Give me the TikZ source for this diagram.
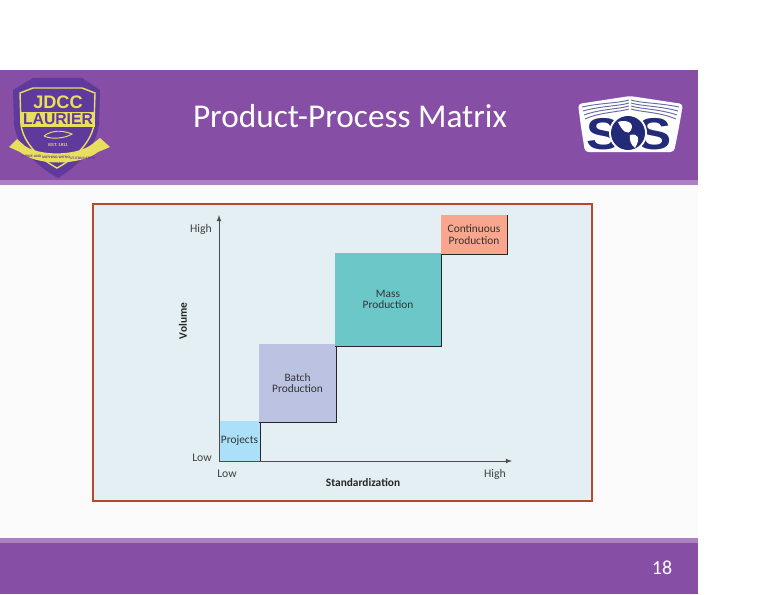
\documentclass[tikz,border=0pt]{standalone}
\usepackage{fontspec}
\setmainfont{Carlito}
\newfontfamily\logofont{Liberation Sans}
\usetikzlibrary{calc}
\definecolor{bandpurple}{HTML}{874EA6}
\definecolor{bandlight}{HTML}{AD80C4}
\definecolor{slidebg}{HTML}{FBFBFB}
\definecolor{panelbg}{HTML}{E3EFF2}
\definecolor{panelred}{HTML}{B5492F}
\definecolor{shieldpurple}{HTML}{5F3A9C}
\definecolor{shieldyellow}{HTML}{E9DF5F}
\definecolor{sosblue}{HTML}{232A78}
\definecolor{projectsblue}{HTML}{ABE0F8}
\definecolor{batchblue}{HTML}{BCC3E2}
\definecolor{massteal}{HTML}{6CC8C8}
\definecolor{contsalmon}{HTML}{F8A68E}
\newcommand{\mkblock}[6]{% #1: name, #2: color, #3: x1, #4: y1, #5: x2, #6: y2
	\fill[#2] (#3,#4) rectangle (#5,#6);
	\draw[black!85,thick] (#5,#4) -- (#5,#6) -- (#3,#6);
	\coordinate (#1) at ($(#3,#4)!0.5!(#5,#6)$);
}
\tikzset{
	blocklabel/.style={font=\fontsize{9.7}{9.6}\selectfont,align=center,text=black!80},
	axislabel/.style={font=\fontsize{10}{11}\selectfont,text=black!75},
	axistitle/.style={font=\fontsize{9.7}{11}\selectfont\bfseries,text=black!85},
	logotext/.style={inner sep=0pt}
}
\begin{document}
\begin{tikzpicture}[x=0.03cm,y=-0.03cm]
	\useasboundingbox (0,0) rectangle (768,594);
	% Slide background and bands
	\fill[white] (0,0) rectangle (768,594);
	\fill[slidebg] (0,185) rectangle (698,538);
	\fill[bandpurple] (0,70) rectangle (698,180);
	\fill[bandlight] (0,180) rectangle (698,185);
	\fill[bandlight] (0,538) rectangle (698,543);
	\fill[bandpurple] (0,543) rectangle (698,594);
	\node[text=white,font=\fontsize{28.4}{32}\selectfont] (title) at (350,116) {Product-Process Matrix};
	\node[text=white,font=\fontsize{17}{20}\selectfont] (pagenum) at (662,568) {18};

	% Shield logo
	\fill[shieldpurple] (13,90) -- (33,78) -- (82,78) -- (100,90) -- (99,125) .. controls (95,150) and (75,168) .. (58,178) .. controls (40,168) and (18,150) .. (14,125) -- cycle;
	\draw[shieldyellow,line width=1.2pt] (20,93) -- (33,88) -- (82,88) -- (95,93) -- (94,125) .. controls (90,145) and (72,160) .. (57,168) .. controls (42,160) and (24,145) .. (21,125) -- cycle;
	\fill[shieldyellow] (21,112) rectangle (95,127);
	\fill[shieldyellow] (9,147) -- (17,139) -- (25,146) .. controls (40,156) and (75,156) .. (91,145) -- (100,138) -- (110,147) -- (98,152) .. controls (80,166) and (36,166) .. (20,152) -- cycle;
	\node[logotext,text=shieldyellow,font=\logofont\fontsize{15.5}{16}\bfseries\selectfont] (jdcc) at (58,102.5) {JDCC};
	\node[logotext,text=shieldpurple,font=\logofont\fontsize{13.4}{16}\bfseries\selectfont] (laurier) at (58,119.5) {LAURIER};
	\node[logotext,text=shieldyellow,font=\logofont\fontsize{3.6}{4}\bfseries\selectfont] (est) at (58,145) {EST. 1911};
	\draw[shieldyellow,line width=0.8pt] (44,136) .. controls (52,130) and (62,130) .. (72,134) .. controls (66,138) and (52,140) .. (44,136);
	\node[logotext,text=shieldpurple,font=\logofont\fontsize{2.9}{3}\bfseries\selectfont,rotate=-2] (motto) at (59,157.5) {PRIDE AND NOTHING WITHOUT EDUCATION};

	% SOS logo
	\fill[white,rounded corners=3pt] (578,104) -- (630,96) -- (683,104) -- (679,127) -- (674,152) -- (585,152) -- (581,127) -- cycle;
	\foreach \i in {0,1,2,3} {
		\draw[sosblue!70,thick] (582+\i,{107+4*\i}) .. controls (600,{103+3*\i}) and (620,{103+3*\i}) .. (629,{100+3*\i});
		\draw[sosblue!70,thick] (679-\i,{107+4*\i}) .. controls (660,{103+3*\i}) and (640,{103+3*\i}) .. (631,{100+3*\i});
	}
	\node[logotext,text=sosblue,xscale=1.15,font=\logofont\fontsize{38}{38}\bfseries\selectfont] (sosa) at (604,134) {S};
	\node[logotext,text=sosblue,xscale=1.15,font=\logofont\fontsize{38}{38}\bfseries\selectfont] (sosb) at (655,134) {S};
	\fill[white] (628,133) circle (19);
	\fill[sosblue] (628,133) circle (17);
	\fill[white] (618,122) .. controls (626,119) and (635,123) .. (631,130) .. controls (628,136) and (622,131) .. cycle;
	\fill[white] (630,135) .. controls (638,133) and (641,138) .. (635,148) .. controls (631,145) and (629,140) .. cycle;

	% Panel
	\draw[panelred,fill=panelbg,line width=1.3pt] (93,204) rectangle (592,501);

	% Blocks
	\mkblock{projects}{projectsblue}{219}{421}{260}{461}
	\mkblock{batch}{batchblue}{259}{344}{336}{422}
	\mkblock{mass}{massteal}{335}{253}{441}{346}
	\mkblock{continuous}{contsalmon}{441}{215}{507}{254}
	\node[blocklabel] (lprojects) at (projects) {Projects};
	\node[blocklabel] (lbatch) at (batch) {Batch\\Production};
	\node[blocklabel] (lmass) at (mass) {Mass\\Production};
	\node[blocklabel] (lcontinuous) at (continuous) {Continuous\\Production};

	% Axes
	\coordinate (origin) at (219,461);
	\coordinate (xend) at (512,461);
	\coordinate (yend) at (219,215);
	\draw[black!70,thick,-latex] (origin) -- (xend);
	\draw[black!70,thick,-latex] (origin) -- (yend);

	% Axis labels
	\node[axislabel] (ylow) at (202,458) {Low};
	\node[axislabel] (yhigh) at (201,229) {High};
	\node[axislabel] (xlow) at (227,474) {Low};
	\node[axislabel] (xhigh) at (495,474) {High};
	\node[axistitle] (xtitle) at (363,483) {Standardization};
	\node[axistitle,rotate=90] (ytitle) at (183,321) {Volume};
\end{tikzpicture}
\end{document}
